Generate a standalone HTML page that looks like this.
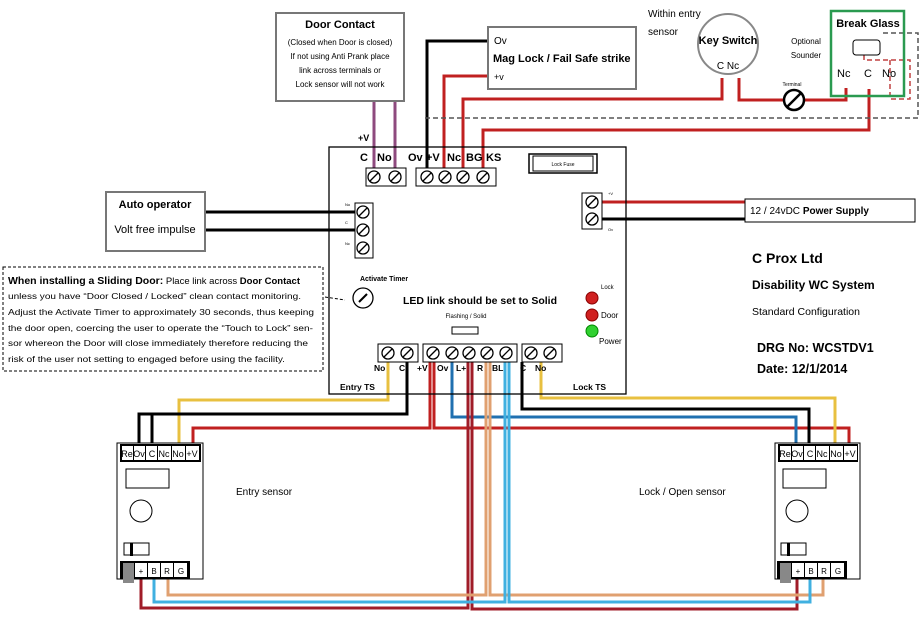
<!DOCTYPE html><html><head><style>body{margin:0;background:#fff}svg{display:block}text{font-family:"Liberation Sans",sans-serif}</style></head><body>
<svg width="923" height="622" viewBox="0 0 923 622" xmlns="http://www.w3.org/2000/svg">
<defs><g id="sc"><circle r="6" fill="#fff" stroke="#000" stroke-width="1.3"/><line x1="-4" y1="4" x2="4" y2="-4" stroke="#000" stroke-width="1.3"/></g></defs>
<g fill="none" stroke-width="3">
<path d="M374 101V168M395 101V168" stroke="#8e4a7e"/>
<path d="M427 168V41H488" stroke="#000"/>
<path d="M444 168V76H488" stroke="#c02020"/>
<path d="M463 168V99H722V78" stroke="#c02020"/>
<path d="M483 168V130H869V89" stroke="#c02020"/>
<path d="M739 78V100H784M804 100H846V88" stroke="#c02020"/>
<path d="M205 212H355M205 230H355" stroke="#000"/>
<path d="M602 202H745" stroke="#c02020"/><path d="M602 219H745" stroke="#000"/>
<path d="M388 362V400H179V444" stroke="#e8c040"/>
<path d="M407 362V414H139V444M152 414V444" stroke="#000"/>
<path d="M430 362V428H193V444" stroke="#c02020"/>
<path d="M434 362V428H849V444" stroke="#c02020"/>
<path d="M452 362V417H796V444" stroke="#2070b0"/>
<path d="M522 362V409H809V444" stroke="#000"/>
<path d="M541 362V398H835V444" stroke="#e8c040"/>
<path d="M468 362V608H141V578" stroke="#a01c28"/>
<path d="M472 362V609H797V578" stroke="#a01c28"/>
<path d="M486 362V595H168V578" stroke="#e0a070"/>
<path d="M490 362V595H823V578" stroke="#e0a070"/>
<path d="M505 362V602H154V578" stroke="#40b0e0"/>
<path d="M509 362V602H810V578" stroke="#40b0e0"/>
</g>
<g fill="none" stroke-width="1.5" stroke-dasharray="5,3">
<path d="M425 118H918V33H880" stroke="#555"/>
<path d="M864 55V60H910V99H890V60" stroke="#c04040"/>
</g>
<rect x="329" y="147" width="297" height="247" fill="none" stroke="#000" stroke-width="1.3"/>
<rect x="276" y="13" width="128" height="88" fill="#fff" stroke="#777" stroke-width="2"/>
<rect x="488" y="27" width="148" height="62" fill="#fff" stroke="#777" stroke-width="2"/>
<circle cx="728" cy="44" r="30" fill="#fff" stroke="#888" stroke-width="2"/>
<rect x="831" y="11" width="73" height="85" fill="none" stroke="#2a9a50" stroke-width="2.5"/>
<rect x="853" y="40" width="27" height="15" rx="3" fill="#fff" stroke="#000"/>
<circle cx="794" cy="100" r="10" fill="#fff" stroke="#000" stroke-width="2.5"/><line x1="787" y1="107" x2="801" y2="93" stroke="#000" stroke-width="2.5"/>
<rect x="106" y="192" width="99" height="59" fill="#fff" stroke="#777" stroke-width="2"/>
<rect x="3" y="267" width="320" height="104" fill="none" stroke="#000" stroke-dasharray="3,2"/>
<path d="M325 297L345 300" stroke="#000" stroke-dasharray="3,2"/>
<rect x="745" y="199" width="170" height="23" fill="#fff" stroke="#000"/>
<rect x="529" y="154" width="68" height="19" fill="#fff" stroke="#000" stroke-width="1.5"/><rect x="533" y="156" width="60" height="15" fill="none" stroke="#000"/>
<text x="563" y="166" font-size="5" text-anchor="middle">Lock Fuse</text>
<rect x="366" y="168" width="40" height="18" fill="#fff" stroke="#000"/>
<rect x="416" y="168" width="80" height="18" fill="#fff" stroke="#000"/>
<use href="#sc" x="374" y="177"/><use href="#sc" x="395" y="177"/>
<use href="#sc" x="427" y="177"/><use href="#sc" x="445" y="177"/><use href="#sc" x="463" y="177"/><use href="#sc" x="483" y="177"/>
<rect x="355" y="203" width="18" height="55" fill="#fff" stroke="#000"/>
<use href="#sc" x="363" y="212"/><use href="#sc" x="363" y="230"/><use href="#sc" x="363" y="248"/>
<rect x="582" y="193" width="20" height="36" fill="#fff" stroke="#000"/>
<use href="#sc" x="592" y="202"/><use href="#sc" x="592" y="219"/>
<rect x="378" y="344" width="40" height="18" fill="#fff" stroke="#000"/>
<rect x="423" y="344" width="94" height="18" fill="#fff" stroke="#000"/>
<rect x="522" y="344" width="40" height="18" fill="#fff" stroke="#000"/>
<use href="#sc" x="388" y="353"/><use href="#sc" x="407" y="353"/>
<use href="#sc" x="433" y="353"/><use href="#sc" x="452" y="353"/><use href="#sc" x="469" y="353"/><use href="#sc" x="487" y="353"/><use href="#sc" x="506" y="353"/>
<use href="#sc" x="531" y="353"/><use href="#sc" x="550" y="353"/>
<circle cx="363" cy="298" r="10" fill="#fff" stroke="#000" stroke-width="1.3"/><path d="M359 302L367 294" stroke="#000" stroke-width="2"/>
<circle cx="592" cy="298" r="6" fill="#d02020" stroke="#800"/>
<circle cx="592" cy="315" r="6" fill="#d02020" stroke="#800"/>
<circle cx="592" cy="331" r="6" fill="#30d030" stroke="#080"/>
<rect x="452" y="327" width="26" height="7" fill="#fff" stroke="#000"/>
<g>
<rect x="117" y="443" width="86" height="136" fill="#fff" stroke="#000"/>
<rect x="120" y="444" width="81" height="18" fill="#000"/>
<rect x="775" y="443" width="85" height="136" fill="#fff" stroke="#000"/>
<rect x="778" y="444" width="80" height="18" fill="#000"/>
<rect x="126" y="469" width="43" height="19" fill="#fff" stroke="#000"/>
<rect x="783" y="469" width="43" height="19" fill="#fff" stroke="#000"/>
<circle cx="141" cy="511" r="11" fill="#fff" stroke="#000"/>
<circle cx="797" cy="511" r="11" fill="#fff" stroke="#000"/>
<rect x="124" y="543" width="25" height="12" fill="#fff" stroke="#000"/><rect x="130" y="543" width="3" height="13" fill="#000"/>
<rect x="781" y="543" width="25" height="12" fill="#fff" stroke="#000"/><rect x="787" y="543" width="3" height="13" fill="#000"/>
<rect x="120" y="561" width="70" height="18" fill="#000"/>
<rect x="777" y="561" width="70" height="18" fill="#000"/>
<rect x="123" y="563" width="11" height="20" fill="#888"/><rect x="780" y="563" width="11" height="20" fill="#888"/>
</g>
<g font-size="9" text-anchor="middle">
<g fill="#fff"><rect x="122" y="446" width="11" height="14"/><rect x="134" y="446" width="11" height="14"/><rect x="146" y="446" width="11" height="14"/><rect x="158" y="446" width="13" height="14"/><rect x="172" y="446" width="13" height="14"/><rect x="186" y="446" width="13" height="14"/>
<rect x="780" y="446" width="11" height="14"/><rect x="792" y="446" width="11" height="14"/><rect x="804" y="446" width="11" height="14"/><rect x="816" y="446" width="13" height="14"/><rect x="830" y="446" width="13" height="14"/><rect x="844" y="446" width="13" height="14"/>
<rect x="135" y="563" width="12" height="14"/><rect x="148" y="563" width="12" height="14"/><rect x="161" y="563" width="12" height="14"/><rect x="174" y="563" width="13" height="14"/>
<rect x="792" y="563" width="12" height="14"/><rect x="805" y="563" width="12" height="14"/><rect x="818" y="563" width="12" height="14"/><rect x="831" y="563" width="13" height="14"/></g>
<text x="127" y="457">Re</text><text x="139" y="457">Ov</text><text x="152" y="457">C</text><text x="164" y="457">Nc</text><text x="178" y="457">No</text><text x="192" y="457">+V</text>
<text x="785" y="457">Re</text><text x="797" y="457">Ov</text><text x="810" y="457">C</text><text x="822" y="457">Nc</text><text x="836" y="457">No</text><text x="850" y="457">+V</text>
<text x="141" y="574" font-size="8">+</text><text x="154" y="574" font-size="8">B</text><text x="167" y="574" font-size="8">R</text><text x="181" y="574" font-size="8">G</text>
<text x="798" y="574" font-size="8">+</text><text x="811" y="574" font-size="8">B</text><text x="824" y="574" font-size="8">R</text><text x="838" y="574" font-size="8">G</text>
</g>
<g font-size="10">
<text x="340" y="28" font-weight="bold" font-size="11" text-anchor="middle">Door Contact</text>
<g font-size="8" text-anchor="middle"><text x="340" y="45">(Closed when Door is closed)</text><text x="340" y="59">If not using Anti Prank place</text><text x="340" y="73">link across terminals or</text><text x="340" y="87">Lock sensor will not work</text></g>
<text x="358" y="141" font-weight="bold" font-size="9">+V</text>
<g font-weight="bold" font-size="11"><text x="360" y="161">C</text><text x="377" y="161">No</text><text x="408" y="161">Ov</text><text x="426" y="161">+V</text><text x="447" y="161">Nc</text><text x="466" y="161">BG</text><text x="486" y="161">KS</text></g>
<text x="494" y="44">Ov</text><text x="493" y="62" font-weight="bold" font-size="11">Mag Lock / Fail Safe strike</text><text x="494" y="80" font-size="9">+v</text>
<text x="648" y="17">Within entry</text><text x="648" y="35">sensor</text>
<text x="728" y="44" font-weight="bold" font-size="11" text-anchor="middle">Key Switch</text>
<text x="728" y="69" text-anchor="middle">C  Nc</text>
<text x="806" y="44" font-size="8" text-anchor="middle">Optional</text><text x="806" y="58" font-size="8" text-anchor="middle">Sounder</text>
<text x="792" y="86" font-size="5" text-anchor="middle">Terminal</text>
<text x="868" y="27" font-weight="bold" font-size="11" text-anchor="middle">Break Glass</text>
<text x="837" y="77" font-size="11">Nc</text><text x="864" y="77" font-size="11">C</text><text x="882" y="77" font-size="11">No</text>
<text x="155" y="208" font-weight="bold" font-size="11" text-anchor="middle">Auto operator</text>
<text x="155" y="233" font-size="11" text-anchor="middle">Volt free impulse</text>
<text x="345" y="206" font-size="4">No</text><text x="345" y="224" font-size="4">C</text><text x="345" y="245" font-size="4">Nc</text>
<text x="608" y="195" font-size="4">+V</text><text x="608" y="231" font-size="4">Ov</text>
<text x="8" y="284" font-size="9.5" textLength="292" lengthAdjust="spacingAndGlyphs"><tspan font-weight="bold" font-size="10.5">When installing a Sliding Door:</tspan> Place link across <tspan font-weight="bold">Door Contact</tspan></text>
<g font-size="8.6"><text x="8" y="299" textLength="293" lengthAdjust="spacingAndGlyphs">unless  you have “Door Closed / Locked” clean contact monitoring.</text><text x="8" y="315" textLength="306" lengthAdjust="spacingAndGlyphs">Adjust the Activate Timer to approximately  30 seconds, thus keeping</text><text x="8" y="331" textLength="305" lengthAdjust="spacingAndGlyphs">the door open, coercing the user to operate the “Touch to Lock” sen-</text><text x="8" y="346" textLength="300" lengthAdjust="spacingAndGlyphs">sor whereon the Door will close immediately therefore reducing the</text><text x="8" y="362" textLength="277" lengthAdjust="spacingAndGlyphs">risk of the user not setting to engaged before using the facility.</text></g>
<text x="384" y="281" font-size="7" text-anchor="middle" font-weight="bold">Activate Timer</text>
<text x="480" y="304" font-size="10.5" font-weight="bold" text-anchor="middle">LED link should be set to Solid</text>
<text x="466" y="318" font-size="6" text-anchor="middle">Flashing / Solid</text>
<text x="601" y="289" font-size="6">Lock</text><text x="601" y="318" font-size="8">Door</text><text x="599" y="344" font-size="8">Power</text>
<g font-weight="bold" font-size="8.5"><text x="374" y="371">No</text><text x="399" y="371">C</text><text x="417" y="371">+V</text><text x="437" y="371">Ov</text><text x="456" y="371">L+</text><text x="477" y="371">R</text><text x="492" y="371">BL</text><text x="520" y="371">C</text><text x="535" y="371">No</text>
<text x="340" y="390">Entry TS</text><text x="573" y="390">Lock TS</text></g>
<text x="750" y="214">12 / 24vDC <tspan font-weight="bold">Power Supply</tspan></text>
<text x="752" y="263" font-weight="bold" font-size="14">C Prox Ltd</text>
<text x="752" y="289" font-weight="bold" font-size="12">Disability WC System</text>
<text x="752" y="315" font-size="10.5">Standard Configuration</text>
<text x="757" y="352" font-weight="bold" font-size="12.5">DRG No: WCSTDV1</text>
<text x="757" y="373" font-weight="bold" font-size="12.5">Date: 12/1/2014</text>
<text x="236" y="495">Entry sensor</text>
<text x="639" y="495">Lock / Open sensor</text>
</g>
</svg></body></html>
